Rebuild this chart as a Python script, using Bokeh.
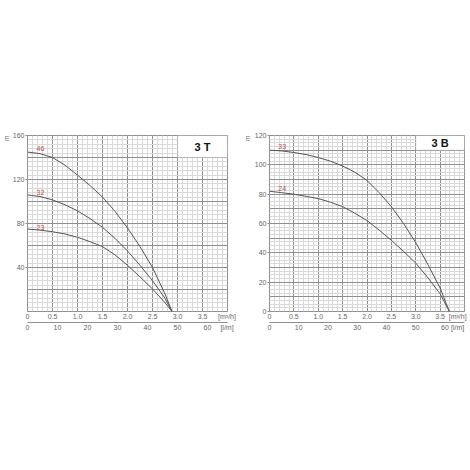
from bokeh.plotting import figure
from bokeh.layouts import row
from bokeh.models import (Range1d, LinearAxis, FixedTicker, SingleIntervalTicker, Grid,
                          Label, BoxAnnotation)
from bokeh.embed import file_html
from bokeh.resources import INLINE

# ---- data: left chart "3 T" (flow m3/h, head m) ----
flow_3t = [0, 0.25, 0.5, 0.75, 1.0, 1.25, 1.5, 1.75, 2.0, 2.25, 2.5, 2.75, 2.89]
head_3t_46 = [145, 143.5, 140, 133, 124, 114.5, 104, 91, 76, 59, 40, 16, 0]
head_3t_32 = [106, 104.5, 101.5, 97, 91.5, 84.5, 76.5, 66.5, 55, 42, 28, 12, 0]
head_3t_23 = [75, 74, 72.5, 70.5, 67.5, 63.5, 59, 51.5, 42, 31.5, 20.5, 8, 0]
stages_3t = ["46", "32", "23"]
label_y_3t = [148, 108, 76.7]

# ---- data: right chart "3 B" ----
flow_3b = [0, 0.25, 0.5, 0.75, 1.0, 1.25, 1.5, 1.75, 2.0, 2.25, 2.5, 2.75, 3.0, 3.25, 3.5, 3.69]
head_3b_33 = [110, 109.5, 108.4, 107, 105, 102.5, 99.2, 95, 89.4, 81, 71.5, 60, 47, 32, 16, 0]
head_3b_24 = [82, 81, 80, 78.5, 77, 74.5, 71.5, 67, 62, 55.5, 48.5, 41, 33, 23, 12, 0]
stages_3b = ["33", "24"]
label_y_3b = [112.6, 83.6]

m3h_ticks = [0, 0.5, 1.0, 1.5, 2.0, 2.5, 3.0, 3.5]
m3h_labels = ["0", "0.5", "1.0", "1.5", "2.0", "2.5", "3.0", "3.5"]
lpm_ticks = [0, 10, 20, 30, 40, 50, 60]
y_ticks_3t = [40, 80, 120, 160]
y_ticks_3b = [0, 20, 40, 60, 80, 100, 120]

FONT = "Liberation Sans"
TXT = "#666666"
MAJOR = "#8f8f8f"
MINOR = "#d9d9d9"
CURVE = "#555555"
RED = "#b5533c"


def make_chart(width, height, bl, br, bb, ymax, y_int, y_minor, y_ticks, curves, labels,
               label_ys, title, unit_x, title_standoff):
    p = figure(width=width, height=height, x_range=Range1d(0, 4), y_range=Range1d(0, ymax),
               x_axis_type=None, y_axis_type=None, toolbar_location=None,
               output_backend="svg", min_border_left=bl, min_border_right=br,
               min_border_top=135, min_border_bottom=bb, title="m", title_location="left")
    p.title.text_font = FONT
    p.title.text_font_size = "6.5px"
    p.title.text_font_style = "normal"
    p.title.text_color = TXT
    p.title.align = "right"
    p.title.standoff = title_standoff
    p.title.offset = 0
    lpm_max = 4 * 1000 / 60
    p.extra_x_ranges = {"lpm": Range1d(0, lpm_max)}
    p.outline_line_color = MAJOR
    p.background_fill_color = "white"
    p.border_fill_color = "white"

    gx = Grid(dimension=0, ticker=SingleIntervalTicker(interval=0.5, num_minor_ticks=5),
              grid_line_color=MAJOR, minor_grid_line_color=MINOR, grid_line_width=1)
    gy = Grid(dimension=1, ticker=SingleIntervalTicker(interval=y_int, num_minor_ticks=y_minor),
              grid_line_color=MAJOR, minor_grid_line_color=MINOR, grid_line_width=1)
    p.add_layout(gx)
    p.add_layout(gy)

    t1 = m3h_ticks + [unit_x]
    l1 = m3h_labels + ["[m³/h]"]
    ax1 = LinearAxis(ticker=FixedTicker(ticks=t1),
                     major_label_overrides={t: s for t, s in zip(t1, l1)})
    t2 = lpm_ticks + [unit_x * 1000 / 60]
    l2 = [str(v) for v in lpm_ticks] + ["[l/m]"]
    ax2 = LinearAxis(x_range_name="lpm", ticker=FixedTicker(ticks=t2),
                     major_label_overrides={t: s for t, s in zip(t2, l2)})
    ay = LinearAxis(ticker=FixedTicker(ticks=y_ticks))
    for ax in (ax1, ax2, ay):
        ax.major_label_text_font = FONT
        ax.major_label_text_font_size = "7px"
        ax.major_label_text_color = TXT
        ax.minor_tick_line_color = None
        ax.minor_tick_out = 0
        ax.minor_tick_in = 0
    for ax in (ax1, ax2):
        ax.major_tick_line_color = None
        ax.major_tick_out = 0
        ax.major_tick_in = 0
        ax.major_label_standoff = 1
    ax1.axis_line_color = None
    ax2.axis_line_color = MAJOR
    ay.axis_line_color = None
    ay.major_tick_line_color = MAJOR
    ay.major_tick_out = 2
    ay.major_tick_in = 0
    ay.major_label_standoff = 1
    p.add_layout(ax1, "below")
    p.add_layout(ax2, "below")
    p.add_layout(ay, "left")

    for (xs, ys), lab, ly in zip(curves, labels, label_ys):
        p.line(xs, ys, line_color=CURVE, line_width=1)
        p.add_layout(Label(x=0.26, y=ly, text=lab, text_font=FONT, text_font_size="7px",
                           text_color=RED, text_align="center", text_baseline="middle"))

    p.add_layout(BoxAnnotation(left=3.0, right=4.0, bottom=ymax - y_int, top=ymax,
                               fill_color="white", fill_alpha=1, line_color=MAJOR,
                               level="annotation"))
    p.add_layout(Label(x=3.5, y=ymax - y_int / 2, text=title, text_font=FONT,
                       text_font_size="11px", text_font_style="bold", text_color="#111111",
                       text_align="center", text_baseline="middle"))
    return p


p1 = make_chart(240, 351, 24, 13, 40, 160, 20, 5, y_ticks_3t,
                [(flow_3t, head_3t_46), (flow_3t, head_3t_32), (flow_3t, head_3t_23)],
                stages_3t, label_y_3t, "3 T", 3.99, 0)
p2 = make_chart(230, 351, 26, 6, 37, 120, 10, 4, y_ticks_3b,
                [(flow_3b, head_3b_33), (flow_3b, head_3b_24)],
                stages_3b, label_y_3b, "3 B", 3.86, 2)

layout = row(p1, p2)
open("out.html", "w").write(file_html(layout, INLINE))
